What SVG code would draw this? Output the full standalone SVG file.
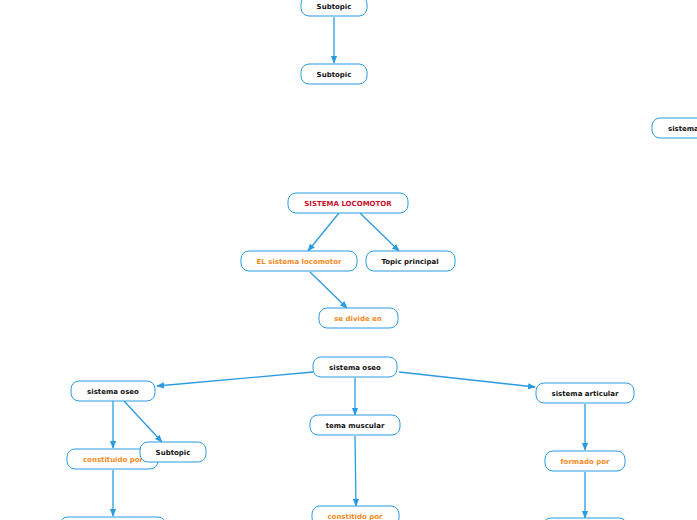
<svg xmlns="http://www.w3.org/2000/svg" width="697" height="520" viewBox="0 0 697 520">
<style>
.n{fill:#fff;stroke:#2a9be0;stroke-width:1}
.t{font-family:"DejaVu Sans",sans-serif;font-size:7px;font-weight:bold;text-anchor:middle;fill:#111}
.o{fill:#f28a1e}
.r{fill:#c8102e}
.c{stroke:#2a9be0;stroke-width:1.3;fill:none;marker-end:url(#a)}
</style>
<defs><marker id="a" viewBox="0 0 10 10" refX="9" refY="5" markerWidth="6" markerHeight="6" orient="auto"><path d="M0,1L10,5L0,9z" fill="#2a9be0"/></marker></defs>
<rect width="697" height="520" fill="#fff"/>
<g id="connectors">
<line class="c" x1="334" y1="17" x2="334" y2="63"/>
<line class="c" x1="339" y1="213" x2="308" y2="251"/>
<line class="c" x1="360" y1="213" x2="399" y2="251"/>
<line class="c" x1="310" y1="272" x2="347" y2="308"/>
<line class="c" x1="313" y1="372" x2="157" y2="386"/>
<line class="c" x1="399" y1="372" x2="535" y2="387"/>
<line class="c" x1="355" y1="378" x2="355" y2="415"/>
<line class="c" x1="355" y1="436" x2="356" y2="506"/>
<line class="c" x1="113" y1="401" x2="113" y2="448"/>
<line class="c" x1="124" y1="401" x2="162" y2="442"/>
<line class="c" x1="113" y1="470" x2="113" y2="516"/>
<line class="c" x1="585" y1="404" x2="585" y2="450"/>
<line class="c" x1="585" y1="472" x2="585" y2="518"/>
</g>
<g id="n1"><rect class="n" x="301" y="-4" width="66" height="20" rx="8"/><text class="t" x="334" y="9">Subtopic</text></g>
<g id="n2"><rect class="n" x="301" y="64" width="66" height="20" rx="8"/><text class="t" x="334" y="77">Subtopic</text></g>
<g id="n3"><rect class="n" x="652" y="118" width="60" height="20" rx="8"/><text class="t" x="668" y="131" style="text-anchor:start">sistema</text></g>
<g id="n4"><rect class="n" x="288" y="193" width="120" height="20" rx="8"/><text class="t r" x="348" y="206">SISTEMA LOCOMOTOR</text></g>
<g id="n5"><rect class="n" x="241" y="251" width="116" height="20" rx="8"/><text class="t o" x="299" y="264">EL sistema locomotor</text></g>
<g id="n6"><rect class="n" x="366" y="251" width="89" height="20" rx="8"/><text class="t" x="410" y="264">Topic principal</text></g>
<g id="n7"><rect class="n" x="319" y="308" width="79" height="20" rx="8"/><text class="t o" x="358" y="321">se divide en</text></g>
<g id="n8"><rect class="n" x="313" y="357" width="84" height="20" rx="8"/><text class="t" x="355" y="370">sistema oseo</text></g>
<g id="n9"><rect class="n" x="71" y="381" width="84" height="20" rx="8"/><text class="t" x="113" y="394">sistema oseo</text></g>
<g id="n10"><rect class="n" x="536" y="383" width="98" height="20" rx="8"/><text class="t" x="585" y="396">sistema articular</text></g>
<g id="n11"><rect class="n" x="310" y="415" width="90" height="20" rx="8"/><text class="t" x="355" y="428">tema muscular</text></g>
<g id="n12"><rect class="n" x="67" y="449" width="91" height="20" rx="8"/><text class="t o" x="113" y="462">constituido por</text></g>
<g id="n13"><rect class="n" x="140" y="442" width="66" height="20" rx="8"/><text class="t" x="173" y="455">Subtopic</text></g>
<g id="n14"><rect class="n" x="545" y="451" width="80" height="20" rx="8"/><text class="t o" x="585" y="464">formado por</text></g>
<g id="n15"><rect class="n" x="312" y="506" width="87" height="20" rx="8"/><text class="t o" x="355" y="519">constitido por</text></g>
<g id="n16"><rect class="n" x="60" y="517" width="106" height="20" rx="8"/></g>
<g id="n17"><rect class="n" x="543" y="518" width="84" height="20" rx="8"/></g>
</svg>
